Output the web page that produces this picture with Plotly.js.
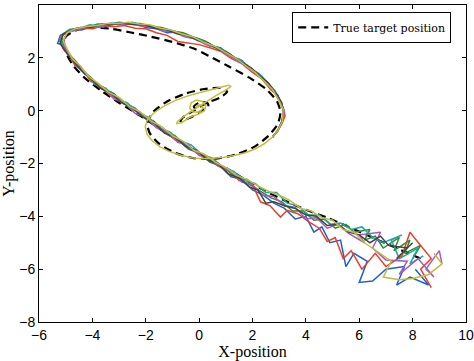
<!DOCTYPE html>
<html><head><meta charset="utf-8">
<script src="https://cdn.plot.ly/plotly-3.0.1.min.js"></script>
<style>html,body{margin:0;padding:0;background:#fff}#chart{width:474px;height:361px}</style>
</head><body><div id="chart"></div>
<script>
// True target position (dashed)
const trueX = [8.3, 7.5, 6.6, 5.6, 4.8, 4.0, 3.2, 2.5, 1.8, 1.05, 0.3, -0.5, -1.3, -2.2, -3.0, -3.7, -4.3, -4.75, -5.05, -5.0, -4.6, -4.0, -3.3, -2.6, -1.8, -1.0, -0.2, 0.5, 1.1, 1.9, 2.55, 2.92, 3.05, 2.95, 2.6, 2.1, 1.4, 0.6, -0.2, -0.9, -1.5, -1.85, -1.95, -1.7, -1.2, -0.5, 0.2, 0.8, 1.05, 0.8, 0.3, -0.2, -0.6, -0.7, -0.3, 0.1, 0.35, 0.3, 0.0, -0.2, -0.1];
const trueY = [-5.6, -5.25, -4.85, -4.4, -4.05, -3.75, -3.4, -3.05, -2.65, -2.2, -1.8, -1.3, -0.8, -0.2, 0.3, 0.78, 1.25, 1.75, 2.35, 2.8, 3.05, 3.15, 3.1, 2.97, 2.8, 2.6, 2.35, 2.0, 1.68, 1.24, 0.78, 0.35, -0.05, -0.5, -0.95, -1.35, -1.65, -1.82, -1.8, -1.6, -1.25, -0.85, -0.45, -0.02, 0.35, 0.65, 0.82, 0.86, 0.72, 0.5, 0.3, 0.0, -0.25, -0.4, -0.25, 0.0, 0.15, 0.3, 0.3, 0.15, 0.05];

// Estimated trajectories
const blueX = [8.1, 8.6, 7.9, 7.4, 7.7, 7.0, 6.5, 6.0, 6.3, 5.8, 5.5, 5.3, 4.9, 4.6,
  4.3, 4.0, 3.6, 3.2, 2.8, 2.4, 2.0, 1.6, 1.2, 0.8, 0.4, 0.0, -0.4, -0.8, -1.2, -1.6, -2.0, -2.4, -2.8, -3.2, -3.6, -4.0, -4.3, -4.6, -4.85, -5.05, -5.3,
  -5.2, -5.0, -4.7, -4.4, -4.0, -3.6, -3.2, -2.8, -2.4, -2.0, -1.6, -1.2, -0.8, -0.4, 0.0, 0.4, 0.8, 1.2, 1.6, 2.0, 2.35, 2.65, 2.95, 3.1, 3.2, 3.08, 2.95, 2.75];
const blueY = [-6.0, -6.6, -6.3, -6.6, -5.9, -6.0, -6.45, -6.5, -5.7, -5.4, -5.9, -4.9, -5.0, -4.4,
  -4.6, -4.0, -4.1, -3.7, -3.5, -3.2, -3.0, -2.6, -2.5, -2.1, -1.95, -1.6, -1.45, -1.1, -0.9, -0.5, -0.3, 0.1, 0.25, 0.65, 0.8, 1.2, 1.4, 1.85, 2.05, 2.45, 2.55,
  2.85, 2.95, 3.1, 3.05, 3.2, 3.15, 3.3, 3.25, 3.32, 3.15, 3.1, 2.95, 2.98, 2.78, 2.72, 2.45, 2.38, 2.05, 1.9, 1.5, 1.3, 0.85, 0.6, 0.15, -0.1, -0.45, -0.75, -1.0];

const greenX = [8.0, 8.3, 7.7, 7.9, 7.3, 7.5, 6.9, 6.6, 6.2, 6.4, 5.8, 5.5, 5.1,
  4.7, 4.3, 3.9, 3.5, 3.1, 2.7, 2.3, 1.9, 1.5, 1.1, 0.7, 0.3, -0.1, -0.5, -0.9, -1.3, -1.7, -2.1, -2.5, -2.9, -3.3, -3.7, -4.05, -4.35, -4.65, -4.9, -5.1,
  -5.15, -4.95, -4.6, -4.2, -3.8, -3.4, -3.0, -2.6, -2.2, -1.8, -1.4, -1.0, -0.6, -0.2, 0.2, 0.6, 1.0, 1.4, 1.8, 2.15, 2.5, 2.8, 3.0, 3.18, 3.12, 2.95, 2.75];
const greenY = [-5.6, -5.1, -5.4, -4.9, -5.3, -4.8, -5.2, -4.75, -4.9, -4.5, -4.6, -4.3, -4.45,
  -4.1, -4.15, -3.8, -3.8, -3.45, -3.3, -3.05, -2.8, -2.6, -2.3, -2.05, -1.85, -1.5, -1.35, -0.95, -0.8, -0.4, -0.2, 0.15, 0.3, 0.7, 0.85, 1.25, 1.5, 1.9, 2.15, 2.5,
  2.8, 3.0, 3.12, 3.15, 3.28, 3.25, 3.35, 3.3, 3.3, 3.2, 3.15, 3.02, 2.95, 2.78, 2.65, 2.42, 2.25, 1.95, 1.72, 1.4, 1.1, 0.72, 0.4, 0.02, -0.4, -0.75, -1.0];

const redX = [8.7, 8.3, 8.7, 7.9, 7.6, 7.0, 6.6, 6.1, 5.7, 5.4, 5.1, 4.8,
  4.5, 4.1, 3.7, 3.3, 3.05, 2.66, 2.3, 2.0, 1.8, 1.5, 1.1, 0.7, 0.3, -0.1, -0.5, -0.9, -1.3, -1.7, -2.1, -2.5, -2.9, -3.3, -3.7, -4.05, -4.35, -4.65, -4.9, -5.1, -5.25,
  -5.05, -4.8, -4.4, -4.0, -3.6, -3.2, -2.8, -2.4, -2.0, -1.6, -1.2, -0.8, -0.4, 0.0, 0.4, 0.8, 1.2, 1.6, 2.0, 2.35, 2.7, 2.95, 3.15, 3.22, 3.1, 2.95, 2.75];
const redY = [-6.7, -6.0, -5.6, -4.6, -5.5, -5.9, -5.4, -6.0, -5.3, -5.6, -4.8, -4.95,
  -4.45, -4.2, -3.9, -3.77, -4.03, -3.6, -3.45, -2.8, -2.6, -2.65, -2.2, -2.1, -1.75, -1.6, -1.25, -1.1, -0.75, -0.55, -0.15, 0.05, 0.4, 0.55, 0.95, 1.1, 1.55, 1.7, 2.15, 2.35, 2.7,
  2.9, 3.0, 3.12, 3.1, 3.22, 3.18, 3.22, 3.12, 3.1, 2.95, 2.85, 2.62, 2.55, 2.5, 2.38, 2.25, 1.98, 1.78, 1.45, 1.2, 0.78, 0.55, 0.1, -0.2, -0.5, -0.75, -1.0];

const tealX = [8.4, 7.9, 8.2, 7.5, 7.2, 7.6, 6.9, 6.5, 6.1, 5.7, 5.3,
  4.9, 4.5, 4.1, 3.7, 3.3, 2.9, 2.5, 2.1, 1.7, 1.3, 0.9, 0.5, 0.1, -0.3, -0.7, -1.1, -1.5, -1.9, -2.3, -2.7, -3.1, -3.5, -3.9, -4.25, -4.55, -4.8, -5.0, -5.2,
  -5.1, -4.85, -4.5, -4.1, -3.7, -3.3, -2.9, -2.5, -2.1, -1.7, -1.3, -0.9, -0.5, -0.1, 0.3, 0.7, 1.1, 1.5, 1.9, 2.25, 2.6, 2.85, 3.05, 3.18, 3.1, 2.95, 2.75];
const tealY = [-5.5, -5.8, -5.2, -5.6, -4.9, -4.7, -5.0, -4.8, -4.4, -4.5, -4.25,
  -4.3, -3.95, -3.95, -3.6, -3.5, -3.1, -3.1, -2.75, -2.65, -2.3, -2.15, -1.8, -1.65, -1.3, -1.15, -0.8, -0.65, -0.25, -0.05, 0.3, 0.45, 0.85, 1.0, 1.4, 1.65, 2.05, 2.3, 2.65,
  2.9, 3.08, 3.1, 3.25, 3.2, 3.32, 3.28, 3.35, 3.22, 3.2, 3.05, 3.0, 2.82, 2.75, 2.5, 2.4, 2.1, 1.95, 1.6, 1.4, 1.0, 0.75, 0.3, 0.0, -0.42, -0.75, -1.0];

const purpleX = [9.1, 9.0, 8.5, 8.8, 8.2, 7.5, 7.8, 7.0, 6.5, 6.8, 6.0, 6.2, 5.6,
  5.2, 4.8, 4.4, 4.0, 3.6, 3.2, 2.8, 2.4, 2.0, 1.6, 1.2, 0.8, 0.4, 0.0, -0.4, -0.8, -1.2, -1.6, -2.0, -2.4, -2.8, -3.2, -3.6, -3.95, -4.3, -4.6, -4.85, -5.05,
  -5.05, -4.9, -4.55, -4.15, -3.75, -3.35, -2.95, -2.55, -2.15, -1.75, -1.35, -0.95, -0.55, -0.15, 0.25, 0.65, 1.05, 1.45, 1.85, 2.2, 2.55, 2.85, 3.05, 3.2, 3.1, 2.95, 2.75];
const purpleY = [-5.8, -5.3, -6.0, -6.3, -5.6, -6.2, -5.7, -5.65, -5.2, -4.6, -4.7, -5.0, -4.65,
  -4.3, -4.45, -4.05, -4.1, -3.65, -3.6, -3.25, -3.2, -2.8, -2.7, -2.3, -2.15, -1.8, -1.7, -1.3, -1.2, -0.8, -0.65, -0.25, -0.1, 0.3, 0.45, 0.9, 1.05, 1.5, 1.7, 2.15, 2.4,
  2.75, 2.98, 3.08, 3.18, 3.15, 3.3, 3.25, 3.3, 3.2, 3.18, 3.02, 2.98, 2.8, 2.72, 2.5, 2.38, 2.12, 1.9, 1.62, 1.35, 1.05, 0.7, 0.35, -0.05, -0.42, -0.75, -1.0];

const grayX = [7.6, 8.0, 7.4, 7.8, 7.1, 6.8, 6.4, 6.0, 5.6, 5.2,
  4.8, 4.4, 4.0, 3.6, 3.2, 2.8, 2.5, 2.2, 1.9, 1.5, 1.1, 0.7, 0.3, -0.1, -0.5, -0.9, -1.3, -1.7, -2.1, -2.5, -2.9, -3.3, -3.7, -4.05, -4.4, -4.7, -4.95, -5.2,
  -5.1, -4.8, -4.45, -4.05, -3.65, -3.25, -2.85, -2.45, -2.05, -1.65, -1.25, -0.85, -0.45, -0.05, 0.35, 0.75, 1.15, 1.55, 1.95, 2.3, 2.6, 2.9, 3.1, 3.15, 3.1, 2.95, 2.75];
const grayY = [-5.4, -5.0, -5.6, -5.2, -5.1, -4.75, -5.0, -4.7, -4.6, -4.3,
  -4.35, -4.0, -3.95, -3.7, -3.6, -3.45, -3.5, -3.0, -2.9, -2.55, -2.4, -2.0, -1.85, -1.5, -1.35, -1.0, -0.85, -0.45, -0.25, 0.1, 0.3, 0.65, 0.85, 1.2, 1.5, 1.85, 2.15, 2.55,
  2.9, 3.05, 3.15, 3.15, 3.28, 3.25, 3.32, 3.25, 3.25, 3.12, 3.08, 2.92, 2.85, 2.65, 2.55, 2.3, 2.15, 1.85, 1.62, 1.3, 1.05, 0.62, 0.3, -0.05, -0.42, -0.75, -1.0];

const oliveX = [8.8, 9.1, 8.6, 8.0, 7.5, 6.9, 7.2, 6.6, 6.2, 5.8, 5.4,
  5.0, 4.6, 4.2, 3.8, 3.4, 3.0, 2.6, 2.2, 1.8, 1.4, 1.0, 0.6, 0.2, -0.2, -0.6, -1.0, -1.4, -1.8, -2.2, -2.6, -3.0, -3.4, -3.8, -4.15, -4.45, -4.75, -4.95, -5.1,
  -4.95, -4.65, -4.25, -3.85, -3.45, -3.05, -2.65, -2.25, -1.85, -1.45, -1.05, -0.65, -0.25, 0.15, 0.55, 0.95, 1.35, 1.75, 2.1, 2.45, 2.75, 2.98, 3.15, 3.12, 2.95, 2.75,
  2.45, 2.1, 1.7, 1.3, 0.9, 0.5, 0.1, -0.3, -0.7, -1.1, -1.45, -1.75, -1.95, -2.02, -1.92, -1.65, -1.3, -0.9, -0.45, 0.0, 0.45, 0.85, 1.1, 1.2, 1.0, 0.6, 0.2, -0.2, -0.55, -0.8, -0.85, -0.65, -0.35, 0.0, 0.2, 0.25, 0.12, -0.1, -0.3, -0.35, -0.22, 0.02, 0.15, 0.08, -0.08, -0.12];
const oliveY = [-5.4, -5.8, -6.2, -6.35, -6.4, -6.3, -5.7, -5.3, -5.0, -4.6, -4.5,
  -4.15, -4.05, -3.8, -3.7, -3.4, -3.2, -3.05, -2.85, -2.6, -2.45, -2.15, -1.95, -1.65, -1.5, -1.15, -0.95, -0.6, -0.4, -0.05, 0.15, 0.5, 0.7, 1.05, 1.3, 1.7, 1.95, 2.35, 2.65,
  2.95, 3.1, 3.18, 3.22, 3.3, 3.3, 3.35, 3.28, 3.25, 3.12, 3.05, 2.9, 2.8, 2.6, 2.45, 2.22, 2.0, 1.7, 1.45, 1.1, 0.8, 0.4, 0.05, -0.4, -0.75, -1.0,
  -1.25, -1.45, -1.6, -1.7, -1.77, -1.8, -1.82, -1.78, -1.68, -1.55, -1.38, -1.15, -0.9, -0.6, -0.3, -0.05, 0.18, 0.38, 0.55, 0.68, 0.8, 0.9, 0.96, 0.92, 0.78, 0.55, 0.3, 0.05, -0.2, -0.4, -0.5, -0.45, -0.25, -0.12, 0.0, 0.2, 0.35, 0.4, 0.3, 0.1, -0.05, -0.05, 0.1, 0.22, 0.2, 0.1];

const series = [
  {x: blueX, y: blueY, color: '#1f5fcf'},
  {x: greenX, y: greenY, color: '#2e8b2e'},
  {x: redX, y: redY, color: '#e8402a'},
  {x: tealX, y: tealY, color: '#1aa8a8'},
  {x: purpleX, y: purpleY, color: '#a35bc4'},
  {x: grayX, y: grayY, color: '#444444'},
  {x: oliveX, y: oliveY, color: '#c2bd3c'}
];

const traces = [{
  x: trueX, y: trueY, type: 'scatter', mode: 'lines', name: 'True target position',
  line: {color: '#000', width: 2.2, dash: '8px,5px', shape: 'spline', smoothing: 0.6}
}];
series.forEach(s => traces.push({
  x: s.x, y: s.y, type: 'scatter', mode: 'lines', showlegend: false, hoverinfo: 'skip',
  line: {color: s.color, width: 1.5}
}));

const tickFont = {family: 'Liberation Sans, Arial, sans-serif', size: 14, color: '#000'};
const titleFont = {family: 'Liberation Serif, Times New Roman, serif', size: 16, color: '#000'};

const layout = {
  width: 474, height: 361,
  margin: {l: 39, r: 8, t: 5, b: 39, pad: 0},
  paper_bgcolor: '#fff', plot_bgcolor: '#fff',
  showlegend: true,
  legend: {x: 0.593, y: 0.978, xanchor: 'left', yanchor: 'top', bgcolor: '#fff', bordercolor: '#000', borderwidth: 1,
    font: {family: 'DejaVu Serif, serif', size: 11, color: '#000'}},
  xaxis: {range: [-6, 10], dtick: 2, tick0: 0, ticks: 'inside', ticklen: 4, tickcolor: '#000', showline: true, linecolor: '#000', linewidth: 1,
    mirror: 'ticks', showgrid: false, zeroline: false, tickfont: tickFont, automargin: false,
    title: {text: 'X-position', font: titleFont, standoff: 4}},
  yaxis: {range: [-8, 4], dtick: 2, tick0: 0, ticks: 'inside', ticklen: 4, tickcolor: '#000', showline: true, linecolor: '#000', linewidth: 1,
    mirror: 'ticks', showgrid: false, zeroline: false, tickfont: tickFont, automargin: false,
    title: {text: 'Y-position', font: titleFont, standoff: 4}}
};

Plotly.newPlot('chart', traces, layout, {staticPlot: true, displayModeBar: false});
</script></body></html>
